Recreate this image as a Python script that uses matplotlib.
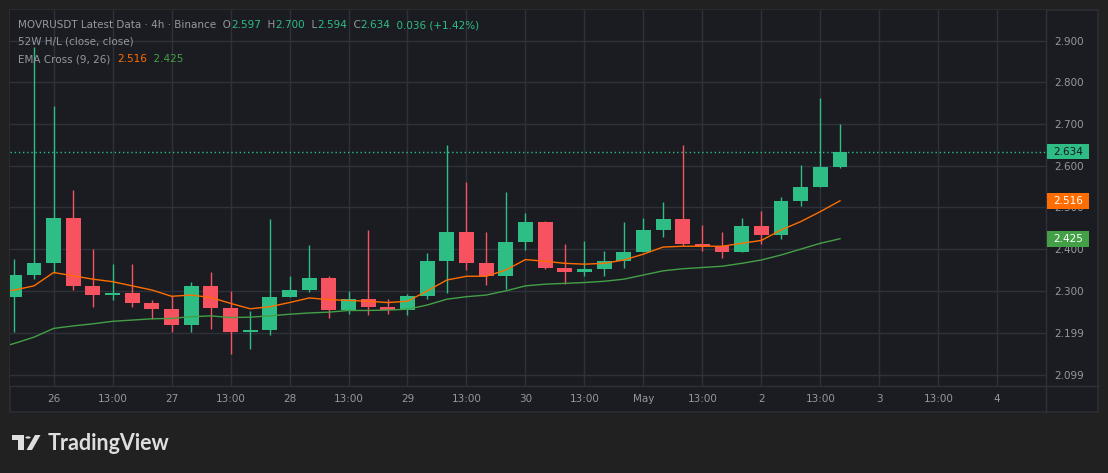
import matplotlib
matplotlib.use("Agg")
import matplotlib.pyplot as plt
from matplotlib.patches import Rectangle, Polygon, Circle
from matplotlib.lines import Line2D
import matplotlib.transforms as mtransforms

# 4h candles, MOVRUSDT, from Apr 25 17:00 to May 2 17:00
opens = [2.286, 2.338, 2.368, 2.475, 2.312, 2.290, 2.296, 2.272, 2.256, 2.218,
         2.311, 2.260, 2.201, 2.205, 2.286, 2.302, 2.332, 2.254, 2.281, 2.262,
         2.253, 2.288, 2.371, 2.442, 2.368, 2.336, 2.418, 2.465, 2.356, 2.345,
         2.353, 2.371, 2.394, 2.447, 2.472, 2.412, 2.407, 2.394, 2.456, 2.434,
         2.516, 2.549, 2.597]
closes = [2.338, 2.368, 2.475, 2.312, 2.290, 2.296, 2.272, 2.256, 2.218, 2.311,
          2.260, 2.201, 2.205, 2.286, 2.302, 2.332, 2.254, 2.281, 2.262, 2.253,
          2.288, 2.371, 2.442, 2.368, 2.336, 2.418, 2.465, 2.356, 2.345, 2.353,
          2.371, 2.394, 2.447, 2.472, 2.412, 2.407, 2.394, 2.456, 2.434, 2.516,
          2.549, 2.597, 2.634]
highs = [2.376, 2.885, 2.743, 2.542, 2.400, 2.364, 2.364, 2.278, 2.288, 2.321,
         2.345, 2.300, 2.252, 2.472, 2.336, 2.410, 2.336, 2.299, 2.446, 2.280,
         2.292, 2.391, 2.650, 2.561, 2.441, 2.537, 2.487, 2.467, 2.412, 2.420,
         2.395, 2.465, 2.475, 2.513, 2.650, 2.458, 2.441, 2.475, 2.491, 2.525,
         2.602, 2.762, 2.700]
lows = [2.202, 2.328, 2.343, 2.302, 2.262, 2.278, 2.262, 2.233, 2.202, 2.202,
        2.209, 2.149, 2.161, 2.195, 2.285, 2.298, 2.235, 2.245, 2.243, 2.245,
        2.243, 2.280, 2.295, 2.350, 2.314, 2.304, 2.398, 2.352, 2.316, 2.336,
        2.336, 2.355, 2.393, 2.429, 2.408, 2.395, 2.379, 2.393, 2.412, 2.424,
        2.503, 2.549, 2.594]

# EMA lines, first point is the bar before the visible range
ema_x = list(range(-1, 43))
ema_fast = [2.296, 2.302, 2.312, 2.344, 2.336, 2.328, 2.322, 2.312, 2.302, 2.287,
            2.290, 2.284, 2.270, 2.257, 2.262, 2.272, 2.283, 2.279, 2.277, 2.275,
            2.272, 2.275, 2.300, 2.326, 2.335, 2.335, 2.350, 2.375, 2.371, 2.366,
            2.364, 2.366, 2.374, 2.388, 2.405, 2.407, 2.407, 2.407, 2.414, 2.421,
            2.446, 2.466, 2.490, 2.516]
ema_slow = [2.160, 2.174, 2.189, 2.210, 2.216, 2.221, 2.227, 2.230, 2.233, 2.234,
            2.238, 2.240, 2.236, 2.237, 2.240, 2.244, 2.247, 2.249, 2.253, 2.253,
            2.254, 2.256, 2.266, 2.280, 2.286, 2.290, 2.300, 2.312, 2.316, 2.318,
            2.320, 2.323, 2.328, 2.338, 2.348, 2.353, 2.356, 2.359, 2.366, 2.374,
            2.386, 2.400, 2.414, 2.425]

x_tick_pos = list(range(2, 51, 3))
x_tick_labels = ['26', '13:00', '27', '13:00', '28', '13:00', '29', '13:00', '30',
                 '13:00', 'May', '13:00', '2', '13:00', '3', '13:00', '4']
y_tick_labels = ['2.900', '2.800', '2.700', '2.600', '2.500', '2.400', '2.300',
                 '2.199', '2.099']

last_price = 2.634
last_fast = 2.516
last_slow = 2.425

W, H = 1108, 473
UP = '#2ebd85'
DOWN = '#f7525f'
ORANGE = '#ff6d00'
EMA_GREEN = '#43a047'
OUTER = '#212121'
PANEL = '#1b1c21'
GRID = '#2e3139'
BORDER = '#2c2e34'
TXT = '#9598a1'


def fx(x):
    return x / W


def fy(y):
    return 1 - y / H


fig = plt.figure(figsize=(W / 100, H / 100), dpi=100)
fig.patch.set_facecolor(OUTER)

# chart panel
fig.add_artist(Rectangle((fx(10), fy(412)), fx(1098) - fx(10), fy(10) - fy(412),
                         transform=fig.transFigure, fc=PANEL, ec=BORDER, lw=1.2, zorder=0))
fig.add_artist(Line2D([fx(1046), fx(1046)], [fy(10), fy(412)], transform=fig.transFigure,
                      color=GRID, lw=1, zorder=1))
fig.add_artist(Line2D([fx(10), fx(1098)], [fy(385.5), fy(385.5)], transform=fig.transFigure,
                      color=GRID, lw=1, zorder=1))

ax = fig.add_axes([fx(10), fy(385.5), fx(1046) - fx(10), fy(10) - fy(385.5)])
ax.set_facecolor(PANEL)
ax.set_xlim(-0.22, 52.48)
ax.set_ylim(2.0731, 2.9734)
for s in ax.spines.values():
    s.set_visible(False)

ax.set_xticks(x_tick_pos)
ax.set_xticklabels(x_tick_labels)
ax.set_yticks([float(t) for t in y_tick_labels])
ax.set_yticklabels(y_tick_labels)
ax.yaxis.tick_right()
ax.tick_params(axis='both', length=0, colors=TXT, labelsize=7.5)
ax.tick_params(axis='y', pad=6)
ax.tick_params(axis='x', pad=6)
ax.grid(True, color=GRID, lw=1)
ax.set_axisbelow(True)

# candles
for i in range(len(closes)):
    c = UP if closes[i] >= opens[i] else DOWN
    ax.vlines(i, lows[i], highs[i], color=c, lw=1, zorder=3)
    lo = min(opens[i], closes[i])
    h = max(abs(closes[i] - opens[i]), 0.002)
    ax.add_patch(Rectangle((i - 0.38, lo), 0.76, h, fc=c, ec='none', zorder=4))

ax.plot(ema_x, ema_fast, color=ORANGE, lw=1, zorder=5)
ax.plot(ema_x, ema_slow, color=EMA_GREEN, lw=1, zorder=5)
ax.axhline(last_price, color=UP, lw=1, ls=(0, (1, 2)), zorder=2)

# price labels on the right scale
blend = mtransforms.blended_transform_factory(fig.transFigure, ax.transData)
for val, bg, fg in [(last_price, UP, '#131722'), (last_fast, ORANGE, 'white'),
                    (last_slow, EMA_GREEN, 'white')]:
    fig.add_artist(Rectangle((fx(1047), val - 0.019), fx(42), 0.038, transform=blend,
                             fc=bg, ec='none', zorder=6))
    fig.text(fx(1068), val, f'{val:.3f}', transform=blend, ha='center', va='center',
             color=fg, fontsize=7.5, zorder=7)

# legend text lines
renderer = fig.canvas.get_renderer()


def colored_line(parts, x, y, size=7.5):
    for txt, col in parts:
        t = fig.text(fx(x), fy(y), txt, color=col, fontsize=size, va='center', ha='left')
        bb = t.get_window_extent(renderer)
        x += bb.width


colored_line([('MOVRUSDT Latest Data · 4h · Binance  O', TXT), ('2.597', UP), ('  H', TXT),
              ('2.700', UP), ('  L', TXT), ('2.594', UP), ('  C', TXT), ('2.634', UP),
              ('  0.036 (+1.42%)', UP)], 18, 25)
colored_line([('52W H/L (close, close)', TXT)], 18, 42)
colored_line([('EMA Cross (9, 26)  ', TXT), ('2.516', ORANGE), ('  2.425', EMA_GREEN)], 18, 59)

# TradingView logo
LOGO = '#dedede'
fig.add_artist(Polygon([(fx(12), fy(435)), (fx(24), fy(435)), (fx(24), fy(450)),
                        (fx(18), fy(450)), (fx(18), fy(440)), (fx(12), fy(440))],
                       closed=True, transform=fig.transFigure, fc=LOGO, ec='none'))
fig.add_artist(Circle((fx(28), fy(437.5)), 2.6 / W, transform=fig.transFigure, fc=LOGO, ec='none'))
fig.add_artist(Polygon([(fx(26.5), fy(450)), (fx(32), fy(450)), (fx(40.5), fy(435)),
                        (fx(35), fy(435))], closed=True, transform=fig.transFigure,
                       fc=LOGO, ec='none'))
fig.text(fx(48), fy(443), 'TradingView', color=LOGO, fontsize=15.5, fontweight='bold',
         family='Lato', va='center', ha='left')

fig.savefig('out.png', dpi=100, facecolor=OUTER)
